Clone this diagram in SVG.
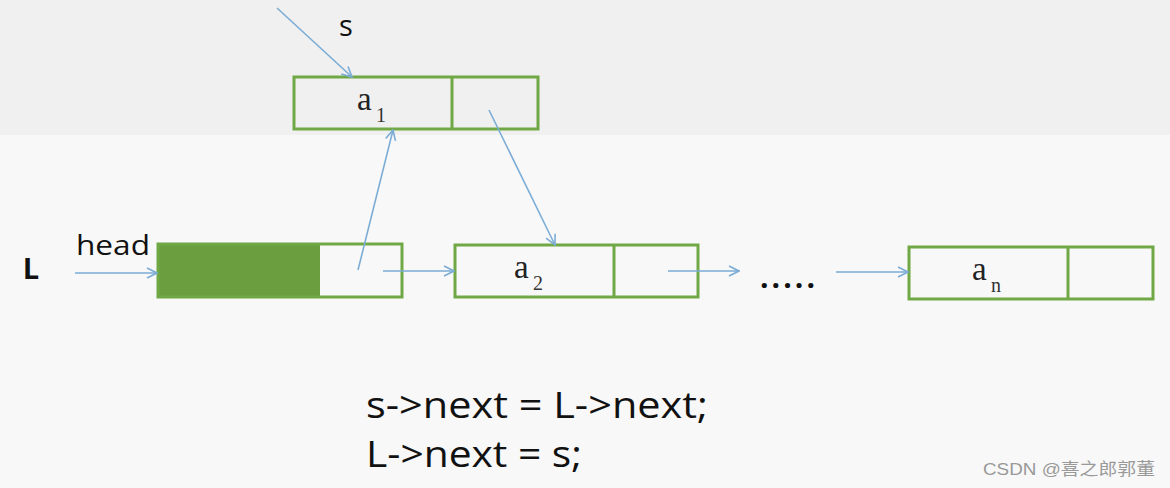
<svg xmlns="http://www.w3.org/2000/svg" width="1170" height="488" viewBox="0 0 1170 488">
<style>
.box{fill:none;stroke:#70a845;stroke-width:3}
.lnk{stroke:#7bacd6;stroke-width:1.6;fill:none}
.val{font-family:"Liberation Serif",serif;font-size:33px;fill:#222}
.sub{font-family:"Liberation Serif",serif;font-size:20px;fill:#333}
.lbl{font-family:"Open Sans","Liberation Sans",sans-serif;fill:#111}
</style>
<defs>
<marker id="ah" viewBox="0 0 12 12" refX="11" refY="6" markerWidth="12" markerHeight="12" markerUnits="userSpaceOnUse" orient="auto">
<path d="M1,1 L11,6 L1,11" fill="none" stroke="#7bacd6" stroke-width="1.6"/>
</marker>
</defs>
<rect x="0" y="0" width="1170" height="488" fill="#f8f8f8"/>
<rect x="0" y="0" width="1170" height="135" fill="#f0f0f0"/>
<g id="label-s"><text class="lbl" x="346" y="36" font-size="29" text-anchor="middle">s</text></g>
<g id="label-L"><text class="lbl" x="31" y="279" font-size="29" font-weight="bold" text-anchor="middle">L</text></g>
<g id="label-head"><text class="lbl" x="76" y="255" font-size="28" textLength="74" lengthAdjust="spacingAndGlyphs">head</text></g>
<g id="node-a1">
<rect class="box" x="294" y="77" width="244" height="52"/>
<line class="box" x1="452" y1="77" x2="452" y2="129"/>
<text class="val" x="357" y="110">a</text><text class="sub" x="376" y="122">1</text>
</g>
<g id="node-head">
<rect x="158" y="244" width="162" height="53" fill="#6b9e3e"/>
<rect class="box" x="158" y="244" width="244" height="53"/>
</g>
<g id="node-a2">
<rect class="box" x="455" y="245" width="243" height="52"/>
<line class="box" x1="614" y1="245" x2="614" y2="297"/>
<text class="val" x="514" y="278">a</text><text class="sub" x="533" y="290">2</text>
</g>
<g id="dots"><text class="lbl" x="760" y="288" font-size="30" font-weight="bold" textLength="55" lengthAdjust="spacing">.....</text></g>
<g id="node-an">
<rect class="box" x="909" y="247" width="244" height="52"/>
<line class="box" x1="1068" y1="247" x2="1068" y2="299"/>
<text class="val" x="972" y="280">a</text><text class="sub" x="991" y="292">n</text>
</g>
<g id="connectors">
<line class="lnk" x1="277" y1="8" x2="352" y2="77" marker-end="url(#ah)"/>
<line class="lnk" x1="75" y1="273" x2="157" y2="273" marker-end="url(#ah)"/>
<line class="lnk" x1="358" y1="270" x2="393" y2="130" marker-end="url(#ah)"/>
<line class="lnk" x1="489" y1="110" x2="555" y2="245" marker-end="url(#ah)"/>
<line class="lnk" x1="383" y1="271" x2="454" y2="271" marker-end="url(#ah)"/>
<line class="lnk" x1="668" y1="271" x2="739" y2="271" marker-end="url(#ah)"/>
<line class="lnk" x1="836" y1="272" x2="908" y2="272" marker-end="url(#ah)"/>
</g>
<g id="code">
<text class="lbl" x="366" y="418" font-size="37" textLength="342" lengthAdjust="spacingAndGlyphs">s-&gt;next = L-&gt;next;</text>
<text class="lbl" x="366" y="467" font-size="37" textLength="216" lengthAdjust="spacingAndGlyphs">L-&gt;next = s;</text>
</g>
<g id="watermark"><text x="983" y="475" font-family="'Liberation Sans','Noto Sans CJK SC',sans-serif" font-size="17" fill="#999" textLength="172" lengthAdjust="spacingAndGlyphs">CSDN @喜之郎郭董</text></g>
</svg>
